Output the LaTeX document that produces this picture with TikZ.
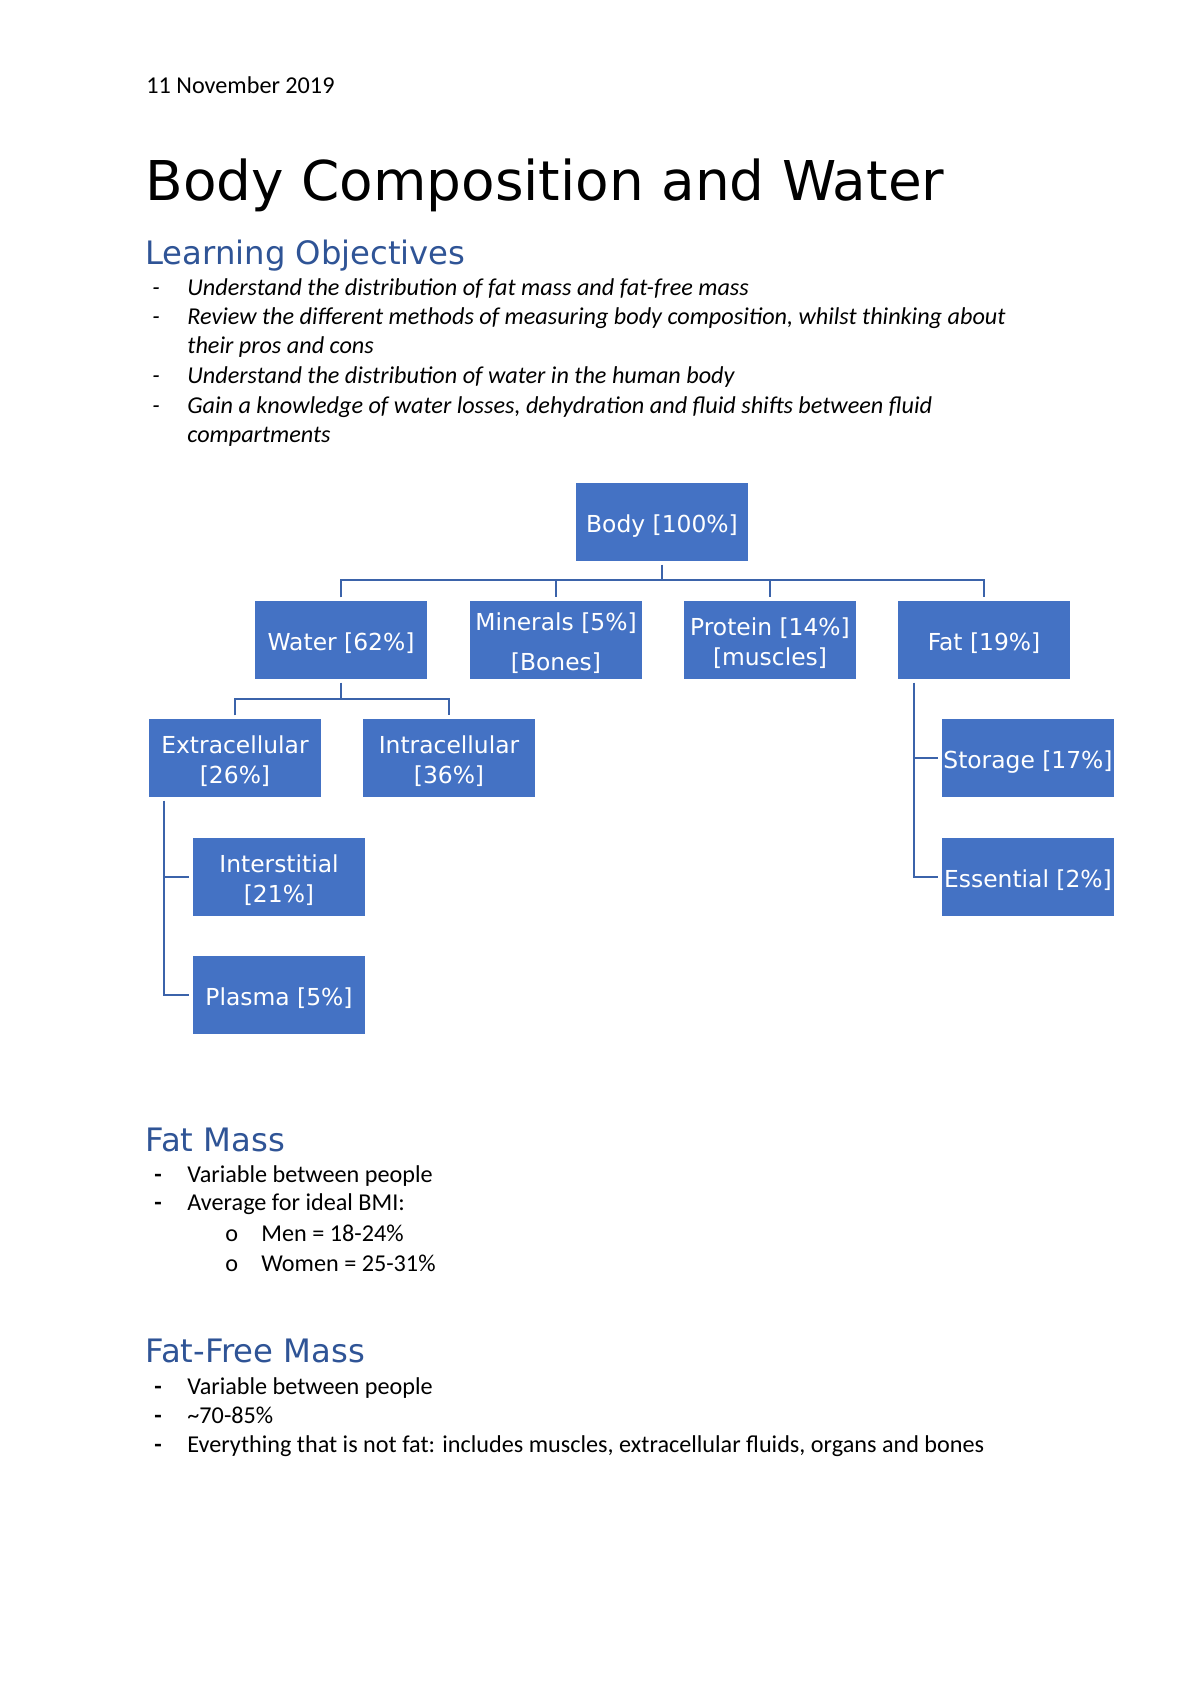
\documentclass[tikz,border=0pt]{standalone}
\usepackage{fontspec}
\setmainfont{Carlito}
\newfontfamily\dejavu{DejaVu Sans}
\definecolor{boxblue}{HTML}{4472C4}
\definecolor{linkblue}{HTML}{3B63AA}
\definecolor{headblue}{HTML}{2F5496}
\newcommand\boxtxt[1]{\raisebox{-2.2pt}[\height][\depth]{\begin{tabular}{@{}c@{}}#1\end{tabular}}}
\begin{document}
\begin{tikzpicture}[x=0.4958pt,y=-0.4958pt,
  box/.style={fill=boxblue, draw=white, line width=0.4pt, minimum width=85.8pt, minimum height=39pt,
    inner sep=0pt, text=white, font=\dejavu\fontsize{11.6}{15}\selectfont},
  link/.style={draw=linkblue, line width=1.25pt, shorten <=1.4pt, shorten >=1.4pt},
  txt/.style={anchor=base west, inner sep=0pt},
  body/.style={txt, font=\fontsize{12}{14}\selectfont},
  bulletdash/.style={txt, font=\bfseries\fontsize{12}{14}\selectfont},
  obj/.style={txt, font=\itshape\fontsize{12}{14}\selectfont},
  head/.style={txt, text=headblue, font=\dejavu\fontsize{16}{19}\selectfont}]
\useasboundingbox (0,0) rectangle (1200,1698);
\fill[white] (0,0) rectangle (1200,1698);

% header
\node[txt, font=\fontsize{12}{14}\selectfont] (date) at (146,93) {11 November 2019};
\node[txt, font=\dejavu\fontsize{27.2}{32}\selectfont] (title) at (145,200) {Body Composition and Water};
\node[head] (lo) at (145,264) {Learning Objectives};

% objectives
\node[obj] (d1) at (152,295) {-};
\node[obj] (o1) at (187,295) {Understand the distribution of fat mass and fat-free mass};
\node[obj] (d2) at (152,324) {-};
\node[obj] (o2) at (187,324) {Review the different methods of measuring body composition, whilst thinking about};
\node[obj] (o2b) at (187,353) {their pros and cons};
\node[obj] (d3) at (152,383) {-};
\node[obj] (o3) at (187,383) {Understand the distribution of water in the human body};
\node[obj] (d4) at (152,413) {-};
\node[obj] (o4) at (187,413) {Gain a knowledge of water losses, dehydration and fluid shifts between fluid};
\node[obj] (o4b) at (187,442) {compartments};

% diagram boxes
\node[box] (body) at (662,522) {\boxtxt{Body [100\%]}};
\node[box] (water) at (341,640) {\boxtxt{Water [62\%]}};
\node[box] (minerals) at (556,640) {\boxtxt{Minerals [5\%]\\[5pt]{}[Bones]}};
\node[box] (protein) at (770,640) {\boxtxt{Protein [14\%]\\{}[muscles]}};
\node[box] (fat) at (984,640) {\boxtxt{Fat [19\%]}};
\node[box] (extra) at (235,758) {\boxtxt{Extracellular\\{}[26\%]}};
\node[box] (intra) at (449,758) {\boxtxt{Intracellular\\{}[36\%]}};
\node[box] (inter) at (279,877) {\boxtxt{Interstitial\\{}[21\%]}};
\node[box] (plasma) at (279,995) {\boxtxt{Plasma [5\%]}};
\node[box] (storage) at (1028,758) {\boxtxt{Storage [17\%]}};
\node[box] (essential) at (1028,877) {\boxtxt{Essential [2\%]}};

% connectors
\coordinate (bus) at (0,580);
\draw[link, shorten >=0pt] (body.south) -- (body.south|-bus);
\draw[link] (water.north) -- (water.north|-bus) -- (fat.north|-bus) -- (fat.north);
\draw[link, shorten <=0pt] (minerals.north|-bus) -- (minerals.north);
\draw[link, shorten <=0pt] (protein.north|-bus) -- (protein.north);

\coordinate (wbus) at (0,699);
\draw[link, shorten >=0pt] (water.south) -- (water.south|-wbus);
\draw[link] (extra.north) -- (extra.north|-wbus) -- (intra.north|-wbus) -- (intra.north);

\coordinate (ex) at (164,0);
\draw[link] (extra.south-|ex) -- (ex|-plasma.west) -- (plasma.west);
\draw[link, shorten <=0pt] (ex|-inter.west) -- (inter.west);

\coordinate (fx) at (914,0);
\draw[link] (fat.south-|fx) -- (fx|-essential.west) -- (essential.west);
\draw[link, shorten <=0pt] (fx|-storage.west) -- (storage.west);

% Fat Mass
\node[head] (fm) at (145,1151) {Fat Mass};
\node[bulletdash] (b1) at (154,1182) {-};
\node[body] (t1) at (187,1182) {Variable between people};
\node[bulletdash] (b2) at (154,1210) {-};
\node[body] (t2) at (187,1210) {Average for ideal BMI:};
\node[body] (c1) at (225,1241) {o};
\node[body] (t3) at (261,1241) {Men = 18-24\%};
\node[body] (c2) at (225,1271) {o};
\node[body] (t4) at (261,1271) {Women = 25-31\%};

% Fat-Free Mass
\node[head] (ffm) at (145,1362) {Fat-Free Mass};
\node[bulletdash] (b3) at (154,1394) {-};
\node[body] (t5) at (187,1394) {Variable between people};
\node[bulletdash] (b4) at (154,1423) {-};
\node[body] (t6) at (187,1423) {\textasciitilde70-85\%};
\node[bulletdash] (b5) at (154,1452) {-};
\node[body] (t7) at (187,1452) {Everything that is not fat: includes muscles, extracellular fluids, organs and bones};
\end{tikzpicture}
\end{document}
